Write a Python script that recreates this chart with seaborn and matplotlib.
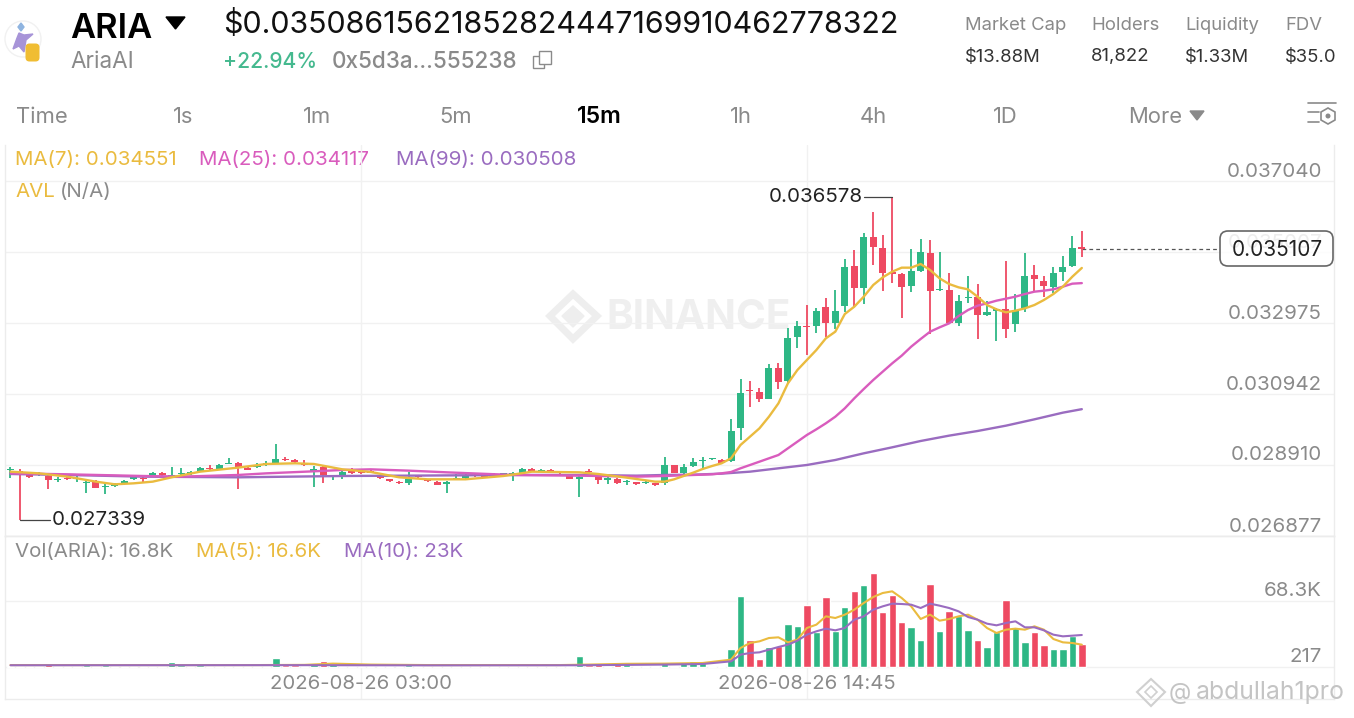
import matplotlib
matplotlib.use("Agg")
import matplotlib.pyplot as plt
from matplotlib.patches import Circle, FancyBboxPatch, Polygon, Rectangle
from matplotlib.transforms import ScaledTranslation
import numpy as np
import pandas as pd
import seaborn as sns

# candles, prices in millionths
opens = [
    28767, 28748, 28643, 28643, 28595, 28481, 28528, 28500, 28385, 28433,
    28271, 28309, 28357, 28500, 28548, 28595, 28691, 28595, 28643, 28652,
    28729, 28815, 28805, 28939, 28967, 28815, 28843, 28920, 28967, 29082,
    29044, 28948, 28748, 28843, 28567, 28595, 28738, 28700, 28719, 28595,
    28500, 28433, 28404, 28595, 28500, 28433, 28357, 28509, 28528, 28624,
    28605, 28652, 28643, 28643, 28671, 28786, 28719, 28767, 28700, 28605,
    28519, 28729, 28576, 28490, 28500, 28414, 28414, 28385, 28385,
    28385, 28910, 28671, 28881, 29024, 29072, 29053, 29034, 29960, 31057,
    30990, 30799, 31696, 31324, 32584, 32889, 32889, 33423, 32965, 33471,
    34606, 33967, 35437, 35122, 34416, 34377, 34034, 34463, 34988, 33919,
    33919, 32984, 33681, 33729, 33204, 33328, 33385, 32946, 33395, 34349,
    34187, 33996, 34444, 34606, 35131,
]
closes = [
    28805, 28710, 28576, 28671, 28481, 28519, 28500, 28519, 28404, 28242,
    28290, 28376, 28452, 28576, 28500, 28671, 28614, 28624, 28671, 28710,
    28834, 28786, 28910, 28967, 28834, 28776, 28881, 28948, 29082, 29053,
    28996, 28910, 28776, 28624, 28595, 28710, 28671, 28671, 28691, 28528,
    28452, 28395, 28519, 28557, 28443, 28347, 28433, 28548, 28614, 28595,
    28548, 28624, 28671, 28671, 28786, 28729, 28767, 28719, 28671, 28509,
    28557, 28700, 28481, 28528, 28385, 28452, 28366, 28433, 28328,
    28910, 28690, 28862, 29005, 29053, 29101, 28977, 29893, 30980, 31019,
    30799, 31696, 31295, 32545, 32889, 32860, 33318, 32965, 33328, 34568,
    33967, 35437, 35160, 34416, 34387, 34015, 34473, 35007, 33900, 33938,
    32984, 33614, 33710, 33204, 33280, 33347, 32793, 33347, 34330, 34225,
    34034, 34397, 34568, 35131, 35107,
]
highs = [
    28862, 28786, 28691, 28710, 28633, 28576, 28576, 28624, 28500, 28481,
    28385, 28404, 28481, 28624, 28624, 28710, 28710, 28862, 28834, 28748,
    28862, 28920, 28929, 29101, 28986, 28843, 28967, 29034, 29502, 29149,
    29091, 29053, 28881, 28881, 28624, 28748, 28815, 28748, 28786, 28624,
    28519, 28452, 28719, 28624, 28519, 28452, 28452, 28643, 28671, 28643,
    28624, 28671, 28691, 28710, 28815, 28815, 28786, 28786, 28719, 28643,
    28624, 28786, 28624, 28576, 28528, 28481, 28433, 28452, 28404,
    29148, 28910, 28938, 29120, 29148, 29120, 29091, 30217, 31381, 31324,
    31124, 31801, 31839, 32822, 33041, 33490, 33414, 33681, 33919, 34797,
    35064, 35561, 36152, 35494, 36578, 34397, 35084, 35389, 35351, 34998,
    34416, 33767, 34320, 34091, 33605, 33395, 34750, 33795, 34988, 34626,
    34320, 34587, 34893, 35465, 35618,
]
lows = [
    28528, 27339, 28528, 28595, 28214, 28433, 28481, 28433, 28118, 28242,
    28070, 28271, 28338, 28481, 28404, 28557, 28595, 28528, 28595, 28624,
    28710, 28767, 28767, 28929, 28214, 28767, 28824, 28881, 28958, 29015,
    28958, 28881, 28271, 28404, 28481, 28500, 28652, 28652, 28671, 28509,
    28433, 28376, 28338, 28538, 28423, 28338, 28118, 28481, 28500, 28576,
    28528, 28605, 28624, 28452, 28643, 28710, 28700, 28700, 28652, 28500,
    28004, 28671, 28366, 28357, 28357, 28338, 28347, 28366, 28309,
    28338, 28690, 28624, 28862, 28833, 29053, 28958, 29005, 29625, 30561,
    30723, 30790, 31076, 31248, 32250, 32059, 32698, 32584, 32793, 33299,
    33442, 33519, 34635, 33900, 34129, 33108, 33853, 34444, 32660, 33900,
    32965, 32889, 33557, 32507, 33175, 32459, 32536, 32708, 33280, 33872,
    33729, 33843, 34187, 34587, 34855,
]

# volume per candle
volumes = [
    900, 800, 1000, 700, 3000, 700, 800, 600, 2000, 1200,
    2000, 700, 900, 700, 800, 1000, 900, 5200, 2000, 1000,
    2500, 1200, 1000, 800, 1100, 900, 1000, 1200, 9300, 2200,
    2200, 1200, 2800, 6200, 2800, 1500, 800, 700, 900, 800,
    700, 900, 2500, 800, 700, 900, 800, 700, 800, 600,
    700, 800, 900, 700, 800, 700, 600, 800, 700, 900,
    11700, 1800, 3000, 1500, 3000, 4000, 1200, 1500, 1200,
    4500, 1000, 4800, 6000, 4200, 1000, 1200, 18576, 73616, 28208,
    8256, 20640, 21328, 44376, 42312, 63640, 35776, 72240, 36808, 61920,
    78088, 84968, 97008, 56416, 74648, 46096, 41280, 28208, 85312, 36808,
    57448, 52288, 38528, 27520, 20984, 35776, 69488, 41280, 25456, 35776,
    22360, 18920, 18920, 31648, 23736,
]

# moving averages read at the candles listed in the *_at lists
ma7_at = [0, 3, 6, 9, 11, 13, 15, 17, 20, 24, 27, 30, 32, 35, 38, 41, 44, 48, 52, 55, 60, 62, 65, 68] + list(range(69, 114))
ma7 = [
    28719, 28671, 28576, 28433, 28357, 28385, 28433, 28557, 28719, 28834,
    28939, 28958, 28939, 28786, 28710, 28557, 28500, 28500, 28595, 28719,
    28700, 28652, 28548, 28433,
    28433, 28500, 28595, 28690, 28795, 28881, 28958, 29101, 29483, 29721,
    29960, 30293, 30675, 31248, 31629, 31916, 32202, 32536, 32727, 33232,
    33442, 33729, 34063, 34282, 34444, 34559, 34559, 34664, 34492, 34253,
    34091, 33996, 33938, 33729, 33490, 33366, 33280, 33328, 33395, 33490,
    33633, 33805, 34015, 34301, 34551,
]
ma25_at = [0, 6, 14, 18, 24, 27, 32, 35, 38, 42, 46, 53, 60, 66] + list(range(69, 114))
ma25 = [
    28671, 28643, 28595, 28576, 28624, 28671, 28729, 28767, 28786, 28748,
    28700, 28624, 28605, 28576,
    28595, 28605, 28614, 28624, 28633, 28643, 28671, 28709, 28815, 28910,
    29005, 29101, 29196, 29387, 29578, 29769, 29931, 30103, 30293, 30532,
    30818, 31085, 31343, 31582, 31820, 32040, 32297, 32517, 32727, 32851,
    32965, 33175, 33347, 33471, 33538, 33614, 33671, 33729, 33805, 33872,
    33900, 33938, 34015, 34101, 34117,
]
ma99_at = [0, 6, 14, 24, 35, 42, 53, 60, 66, 69, 72, 75, 78, 81, 84, 87, 90, 93, 96, 99, 102, 105, 108, 111, 113]
ma99 = [
    28652, 28624, 28576, 28557, 28595, 28605, 28624, 28624, 28605,
    28624, 28633, 28662, 28719, 28815, 28910, 29053, 29244, 29416, 29597,
    29750, 29883, 30036, 30217, 30408, 30508,
]
vol_ma5_at = [0, 26, 31, 34, 38, 44, 58, 61, 65, 69] + [73] + list(range(76, 114))
vol_ma5 = [
    2000, 2000, 2200, 3500, 2500, 2000, 2000, 2500, 3300, 3500,
    4128, 7568, 19608, 24768, 26488, 29928, 30616, 25456, 28208, 40248,
    43688, 52288, 50568, 54008, 59168, 66048, 72240, 76368, 78088, 71208,
    62608, 49536, 54008, 47816, 49536, 52288, 54008, 48848, 40248, 35088,
    38528, 39560, 38528, 41968, 38528, 28896, 25456, 24768, 23048,
]
vol_ma10_at = [0, 30, 44, 60, 69] + [73] + list(range(76, 114))
vol_ma10 = [
    1800, 1900, 1700, 1800, 2500,
    3096, 5848, 12728, 14448, 15136, 17888, 20640, 23048, 27176, 33368,
    36808, 39560, 37840, 40248, 48848, 52288, 59168, 62608, 65360, 65016,
    64328, 60888, 65360, 63296, 60888, 57448, 51600, 48848, 44720, 43000,
    45408, 47128, 40936, 40936, 37840, 33368, 31648, 32336, 33024,
]

price_ticks = [0.037040, 0.035007, 0.032975, 0.030942, 0.028910, 0.026877]
price_labels = ["0.037040", "0.035007", "0.032975", "0.030942", "0.028910", "0.026877"]
vol_ticks = [68300, 217]
vol_labels = ["68.3K", "217"]
time_ticks = [37, 84]
time_labels = ["2026-08-26 03:00", "2026-08-26 14:45"]
tabs = ["Time", "1s", "1m", "5m", "15m", "1h", "4h", "1D", "More"]
stat_names = ["Market Cap", "Holders", "Liquidity", "FDV"]
stat_values = ["$13.88M", "81,822", "$1.33M", "$35.0"]

W, H = 1354, 718
GREEN = "#2eb785"
RED = "#ee4a62"
YELLOW = "#eabb3f"
PINK = "#d95cbd"
PURPLE = "#9a6cc0"
GREY = "#8a8a8a"
DARK = "#222222"
GRID = "#f1f1f1"

sns.set_theme(style="white")
plt.rcParams["font.family"] = ["Inter", "DejaVu Sans"]

fig = plt.figure(figsize=(W / 100, H / 100), dpi=100, facecolor="white")


def rect(x0, y0, x1, y1):
    return [x0 / W, 1 - y1 / H, (x1 - x0) / W, (y1 - y0) / H]


def fpx(px):
    return px * 0.72


# pixel canvas for the page furniture
bg = fig.add_axes([0, 0, 1, 1], zorder=0)
bg.set_xlim(0, W)
bg.set_ylim(H, 0)
bg.axis("off")

ax = fig.add_axes(rect(5, 145, 1334, 536), zorder=1, facecolor="none")
ax_vol = fig.add_axes(rect(5, 536, 1334, 699), zorder=1, facecolor="none", sharex=ax)

o = np.array(opens) / 1e6
c = np.array(closes) / 1e6
hi = np.array(highs) / 1e6
lo = np.array(lows) / 1e6
idx = np.arange(len(o))
up = c >= o
colors = np.where(up, GREEN, RED)

ax.vlines(idx, lo, hi, colors=colors, linewidth=1.3, zorder=3)
body = np.maximum(np.abs(c - o), 0.00004)
ax.bar(idx, body, bottom=np.minimum(o, c), width=0.74, color=colors, linewidth=0, zorder=3)

for xs, ys, col in [
    (ma99_at, ma99, PURPLE),
    (ma25_at, ma25, PINK),
    (ma7_at, ma7, YELLOW),
]:
    sns.lineplot(x=xs, y=np.array(ys) / 1e6, color=col, linewidth=1.7, ax=ax,
                 errorbar=None, legend=False, zorder=4)

# high / low callouts and last price
high_i = int(np.argmax(hi))
low_i = int(np.argmin(lo))
ax.plot([high_i - 3, high_i], [hi[high_i]] * 2, color="#444444", lw=0.9, zorder=5)
ax.text(high_i - 3.1, hi[high_i], "0.036578", ha="right", va="center", fontsize=fpx(20.5), color=DARK, zorder=6)
ax.plot([low_i, low_i + 3.2], [lo[low_i]] * 2, color="#444444", lw=0.9, zorder=5)
ax.text(low_i + 3.3, lo[low_i], "0.027339", ha="left", va="center", fontsize=fpx(20.5), color=DARK, zorder=6)
ax.plot([113, 127.6], [c[-1]] * 2, color="#555555", lw=0.9, ls=(0, (3, 2.5)), zorder=2)

ax.set_xlim(-0.58, 139.6)
ax.set_ylim(26.877e-3, 38.071e-3)
ax.set_yticks(price_ticks)
ax.set_yticklabels(price_labels)

# volume panel
vol_df = pd.DataFrame({"i": idx, "vol": volumes, "side": np.where(up, "up", "down")})
sns.barplot(data=vol_df, x="i", y="vol", hue="side", palette={"up": GREEN, "down": RED},
            native_scale=True, dodge=False, width=0.78, saturation=1, legend=False,
            ax=ax_vol, zorder=3)
sns.lineplot(x=vol_ma5_at, y=vol_ma5, color=YELLOW, linewidth=1.5, ax=ax_vol, errorbar=None, legend=False, zorder=4)
sns.lineplot(x=vol_ma10_at, y=vol_ma10, color=PURPLE, linewidth=1.5, ax=ax_vol, errorbar=None, legend=False, zorder=4)
ax_vol.set_ylim(-33024, 135192)
ax_vol.set_yticks(vol_ticks)
ax_vol.set_yticklabels(vol_labels)
ax_vol.set_xlim(-0.58, 139.6)
ax_vol.set_xticks(time_ticks)
ax_vol.set_xticklabels(time_labels)
ax_vol.set_xlabel("")
ax_vol.set_ylabel("")

for a in (ax, ax_vol):
    a.grid(True, color=GRID, linewidth=1)
    a.set_axisbelow(True)
    for name, sp in a.spines.items():
        sp.set_color("#ececec")
        sp.set_linewidth(1)
    a.spines["top"].set_visible(False)
    a.tick_params(axis="y", which="both", length=0, pad=0, left=False, right=False,
                  labelleft=False, labelright=True, labelsize=fpx(20.5), labelcolor=GREY)
    shift = ScaledTranslation(-12 / 100, 11.5 / 100, fig.dpi_scale_trans)
    for lab in a.get_yticklabels():
        lab.set_ha("right")
        lab.set_transform(lab.get_transform() + shift)

ax.tick_params(axis="x", length=0, labelbottom=False)
ax_vol.spines["top"].set_visible(True)
ax_vol.tick_params(axis="x", length=0, pad=-17, labelsize=fpx(20.3), labelcolor=GREY)

# watermarks behind the chart
bg.add_patch(Polygon([(573, 294), (597, 316), (573, 339), (550, 316)], closed=True, fill=False, ec="#eeeeee", lw=5))
bg.add_patch(Polygon([(573, 306), (584, 316), (573, 327), (562, 316)], closed=True, color="#eeeeee"))
bg.text(606, 318, "BINANCE", fontsize=fpx(40.5), fontweight="bold", color="#efefef", va="center", ha="left")

# header
bg.add_patch(Circle((23, 39), 18, fc="white", ec="#f1f1f1", lw=1))
bg.add_patch(Polygon([(13, 49), (17, 38), (19, 33), (24, 35), (33, 34), (26, 40), (24, 52), (19, 46)], closed=True, color="#a794d8"))
bg.add_patch(Polygon([(21, 23), (24, 27), (21, 31), (18, 27)], closed=True, color="#8fb4e0"))
bg.add_patch(FancyBboxPatch((27, 45), 11, 15, boxstyle="round,pad=1.5,rounding_size=4", fc="#f0bd33", ec="none"))
bg.text(70, 29, "ARIA", fontsize=fpx(34.5), fontweight="semibold", color="black", va="center")
bg.add_patch(Polygon([(166, 17), (185, 17), (175.5, 29)], closed=True, color="black"))
bg.text(70, 62, "AriaAI", fontsize=fpx(22.5), color=GREY, va="center")
bg.text(223, 24, "$0.03508615621852824447169910462778322", fontsize=fpx(30.4), color="#111111", va="center")
bg.text(223, 62, "+22.94%", fontsize=fpx(21), fontweight="medium", color="#45b98f", va="center")
bg.text(332, 62, "0x5d3a...555238", fontsize=fpx(22.5), fontweight="medium", color=GREY, va="center")
bg.add_patch(Rectangle((533, 56), 11, 12, fill=False, ec=GREY, lw=1))
bg.add_patch(Rectangle((539, 51), 12, 13, fc="white", ec=GREY, lw=1))

for x, name, val in zip([965, 1091, 1185, 1285], stat_names, stat_values):
    bg.text(x, 25, name, fontsize=fpx(18.5), color=GREY, va="center")
    bg.text(x, 57, val, fontsize=fpx(18.5), color="#333333", va="center")

# interval tabs
for x, name in zip([16, 173, 303, 439, 577, 730, 860, 993, 1128], tabs):
    sel = name == "15m"
    bg.text(x, 117, name, fontsize=fpx(23 if sel else 22), color="black" if sel else GREY,
            fontweight="semibold" if sel else "normal", va="center")
bg.add_patch(Polygon([(1190, 111), (1204, 111), (1197, 120)], closed=True, color=GREY))
bg.plot([1308, 1336], [103, 103], color=GREY, lw=1.2)
bg.plot([1308, 1319], [112, 112], color=GREY, lw=1.2)
bg.plot([1308, 1319], [122, 122], color=GREY, lw=1.2)
bg.add_patch(Polygon([(1328, 108), (1335, 112), (1335, 120), (1328, 124), (1321, 120), (1321, 112)], closed=True, fill=False, ec=GREY, lw=1.2))
bg.add_patch(Circle((1328, 116), 2.5, fc=GREY, ec="none"))

# indicator legends
for x, y, txt, col in [
    (15, 160, "MA(7): 0.034551", YELLOW),
    (199, 160, "MA(25): 0.034117", PINK),
    (396, 160, "MA(99): 0.030508", PURPLE),
    (15, 192, "AVL", YELLOW),
    (60, 192, "(N/A)", GREY),
    (15, 552, "Vol(ARIA): 16.8K", GREY),
    (196, 552, "MA(5): 16.6K", YELLOW),
    (344, 552, "MA(10): 23K", PURPLE),
]:
    bg.text(x, y, txt, fontsize=fpx(20.5), color=col, va="center")

# page overlay: last price box and corner watermark
top = fig.add_axes([0, 0, 1, 1], zorder=5, facecolor="none")
top.set_xlim(0, W)
top.set_ylim(H, 0)
top.axis("off")
top.add_patch(FancyBboxPatch((1224, 235), 105, 27, boxstyle="round,pad=4,rounding_size=8",
                             fc=(1, 1, 1, 0.85), ec="#666666", lw=1.2))
top.text(1277, 250, "0.035107", fontsize=fpx(20.8), color=DARK, ha="center", va="center")
top.add_patch(Polygon([(1151, 679), (1165, 692), (1151, 706), (1137, 692)], closed=True, fill=False, ec="#d0d0d0", lw=1.5))
top.add_patch(Polygon([(1151, 686), (1157, 692), (1151, 698), (1145, 692)], closed=True, fill=False, ec="#d0d0d0", lw=1.2))
top.text(1169, 693, "@", fontsize=fpx(23), color="#c4c4c4", va="center")
top.text(1196, 693, "abdullah1pro", fontsize=fpx(24.8), color="#c4c4c4", va="center")

fig.savefig("out.png", dpi=100)
